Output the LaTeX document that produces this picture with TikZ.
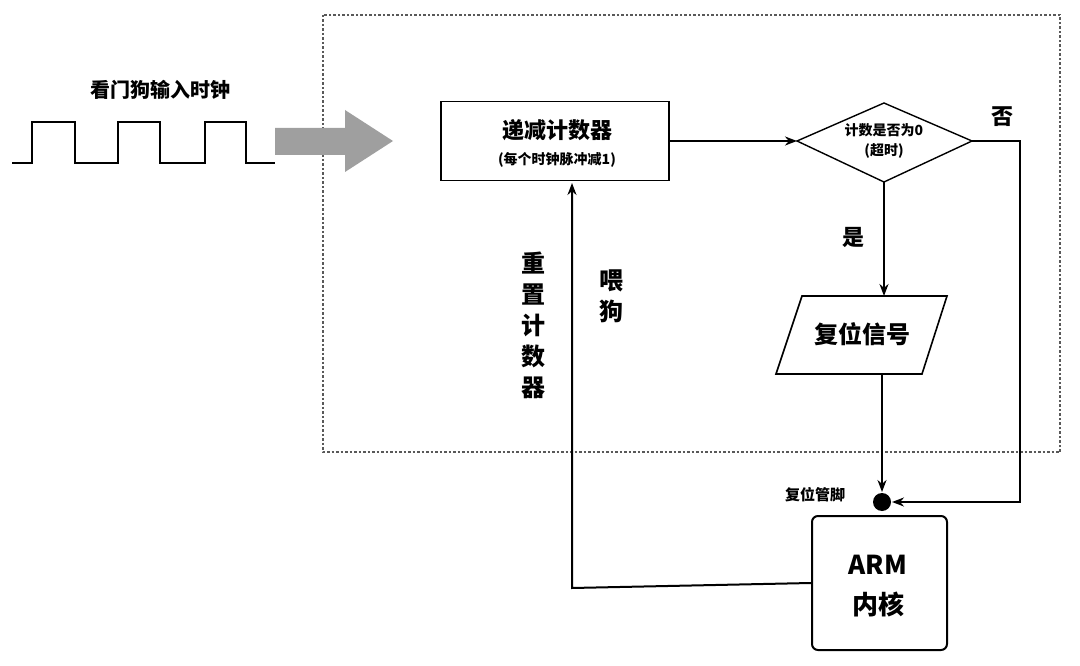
\documentclass[tikz,border=0pt]{standalone}
\usepackage{fontspec}
\setmainfont{Noto Sans CJK SC}
\usetikzlibrary{arrows.meta}
\begin{document}
\begin{tikzpicture}[x=1pt,y=-1pt,font=\bfseries,
  line/.style={line width=2pt,black},
  arr/.style={line,-{Stealth[length=12pt,width=9pt]}},
  txt/.style={inner sep=0pt,align=center}]
\useasboundingbox (0,0) rectangle (1080,666);
\draw[gray!70!black,dotted,line width=2.5pt] (323,15) rectangle (1060,452);
% clock
\draw[line width=2.5pt,line join=miter] (12,163)--(32,163)--(32,122)--(75,122)--(75,163)--(118,163)--(118,122)--(160,122)--(160,163)--(205,163)--(205,122)--(246,122)--(246,163)--(275,163);
\node[txt,font=\bfseries\fontsize{20pt}{22pt}\selectfont] (clk) at (160,90) {看门狗输入时钟};
\fill[gray!75] (275,128)--(345,128)--(345,110)--(393,141)--(345,172)--(345,155)--(275,155)--cycle;
% counter
\node[draw,line width=1.6pt,minimum width=228pt,minimum height=79pt,inner sep=0pt] (cnt) at (555,141) {};
\node[txt,font=\bfseries\fontsize{22pt}{24pt}\selectfont] (t1) at (557,130) {递减计数器};
\node[txt,font=\bfseries\fontsize{14pt}{16pt}\selectfont] (t2) at (557,160) {(每个时钟脉冲减1)};
% diamond
\coordinate (dW) at (797,141); \coordinate (dE) at (972,141);
\coordinate (dN) at (884,103); \coordinate (dS) at (884,182);
\draw[line width=1.4pt,line join=miter] (dW)--(dN)--(dE)--(dS)--cycle;
\node[txt,font=\bfseries\fontsize{14pt}{20pt}\selectfont] (dt) at (884,141) {计数是否为0\\(超时)};
\draw[arr] (cnt.east) -- (dW);
\node[txt,font=\bfseries\fontsize{22pt}{24pt}\selectfont] (no) at (1002,117) {否};
\node[txt,font=\bfseries\fontsize{22pt}{24pt}\selectfont] (yes) at (853,237) {是};
% parallelogram
\draw[line width=1.6pt,line join=miter] (802,296)--(947,296)--(922,374)--(776,374)--cycle;
\coordinate (pT) at (884,296); \coordinate (pB) at (882,374);
\node[txt,font=\bfseries\fontsize{24pt}{26pt}\selectfont] (rt) at (862,334) {复位信号};
\draw[arr] (dS) -- (pT);
% pin
\fill (882,502) circle (9pt);
\coordinate (pinT) at (882,492); \coordinate (pinE) at (892,502);
\node[txt,font=\bfseries\fontsize{15pt}{17pt}\selectfont] (pl) at (815,495) {复位管脚};
\draw[arr] (pB) -- (pinT);
\draw[arr] (dE) -- (1020,141) -- (1020,502) -- (pinE);
% ARM
\node[draw,rounded corners=6pt,line width=2pt,minimum width=135pt,minimum height=134pt,inner sep=0pt] (arm) at (879.5,583) {};
\node[txt,font=\bfseries\fontsize{26pt}{40pt}\selectfont] (at) at (878,586) {ARM\\内核};
\draw[arr] (arm.west) -- (572,588) -- (572,183);
\node[txt,font=\bfseries\fontsize{24pt}{31pt}\selectfont] (re) at (533,325) {重\\置\\计\\数\\器};
\node[txt,font=\bfseries\fontsize{24pt}{31pt}\selectfont] (wd) at (611,296) {喂\\狗};
\end{tikzpicture}
\end{document}
